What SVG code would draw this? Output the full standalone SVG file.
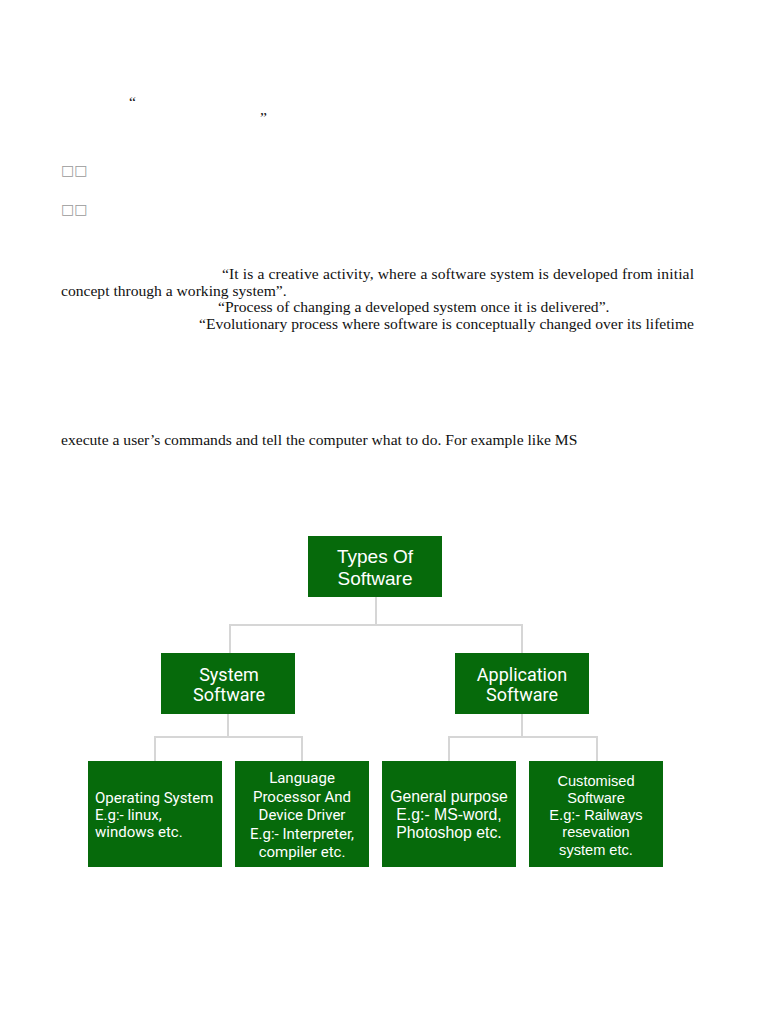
<svg xmlns="http://www.w3.org/2000/svg" width="768" height="1024" viewBox="0 0 768 1024">
<style>
.doc{font-family:"Liberation Serif","Times New Roman",serif;font-size:15.6px;fill:#111}
.tofu{font-family:"DejaVu Sans",sans-serif;font-size:14px;fill:#999}
.box{fill:#066a0b}
.lbl{font-family:Roboto,"Liberation Sans",sans-serif;fill:#fff;text-anchor:middle}
.arl{font-family:"Liberation Sans",Arial,sans-serif;fill:#fff;text-anchor:middle}
.st{text-anchor:start}
.con{fill:none;stroke:#d6d6d6;stroke-width:2}
</style>
<rect width="768" height="1024" fill="#fff"/>
<g id="page-text">
<text class="doc" x="129" y="107">“</text>
<text class="doc" x="260" y="123">”</text>
<text class="tofu" x="61" y="175">□□</text>
<text class="tofu" x="61" y="214">□□</text>
<text class="doc" x="222" y="279" textLength="472" lengthAdjust="spacing">“It is a creative activity, where a software system is developed from initial</text>
<text class="doc" x="61" y="296">concept through a working system”.</text>
<text class="doc" x="218" y="312">“Process of changing a developed system once it is delivered”.</text>
<text class="doc" x="199" y="329" textLength="495" lengthAdjust="spacing">“Evolutionary process where software is conceptually changed over its lifetime</text>
<text class="doc" x="61" y="445">execute a user’s commands and tell the computer what to do. For example like MS</text>
</g>
<g id="connectors">
<path class="con" d="M376 597V625M230 653V625H522V653"/>
<path class="con" d="M228 714V737M155 761V737H302V761"/>
<path class="con" d="M522 714V737M449 761V737H597V761"/>
</g>
<g id="types-of-software">
<rect class="box" x="308" y="536" width="134" height="61"/>
<text class="arl" font-size="19" x="375" y="563">Types Of</text>
<text class="arl" font-size="19" x="375" y="585">Software</text>
</g>
<g id="system-software">
<rect class="box" x="161" y="653" width="134" height="61"/>
<text class="lbl" font-size="18" x="229" y="681">System</text>
<text class="lbl" font-size="18" x="229" y="701">Software</text>
</g>
<g id="application-software">
<rect class="box" x="455" y="653" width="134" height="61"/>
<text class="lbl" font-size="18" x="522" y="681">Application</text>
<text class="lbl" font-size="18" x="522" y="701">Software</text>
</g>
<g id="operating-system">
<rect class="box" x="88" y="761" width="134" height="106"/>
<text class="lbl st" font-size="15" x="95" y="803">Operating System</text>
<text class="lbl st" font-size="15" x="95" y="820">E.g:- linux,</text>
<text class="lbl st" font-size="15" x="95" y="837">windows etc.</text>
</g>
<g id="language-processor">
<rect class="box" x="235" y="761" width="134" height="106"/>
<text class="lbl" font-size="15" x="302" y="783">Language</text>
<text class="lbl" font-size="15" x="302" y="802">Processor And</text>
<text class="lbl" font-size="15" x="302" y="820">Device Driver</text>
<text class="lbl" font-size="15" x="302" y="839">E.g:- Interpreter,</text>
<text class="lbl" font-size="15" x="302" y="857">compiler etc.</text>
</g>
<g id="general-purpose">
<rect class="box" x="382" y="761" width="134" height="106"/>
<text class="arl" font-size="15.8" x="449" y="802">General purpose</text>
<text class="arl" font-size="15.8" x="449" y="820">E.g:- MS-word,</text>
<text class="arl" font-size="15.8" x="449" y="838">Photoshop etc.</text>
</g>
<g id="customised-software">
<rect class="box" x="529" y="761" width="134" height="106"/>
<text class="arl" font-size="14.6" x="596" y="786">Customised</text>
<text class="arl" font-size="14.6" x="596" y="803">Software</text>
<text class="arl" font-size="14.6" x="596" y="820">E.g:- Railways</text>
<text class="arl" font-size="14.6" x="596" y="837">resevation</text>
<text class="arl" font-size="14.6" x="596" y="855">system etc.</text>
</g>
</svg>
